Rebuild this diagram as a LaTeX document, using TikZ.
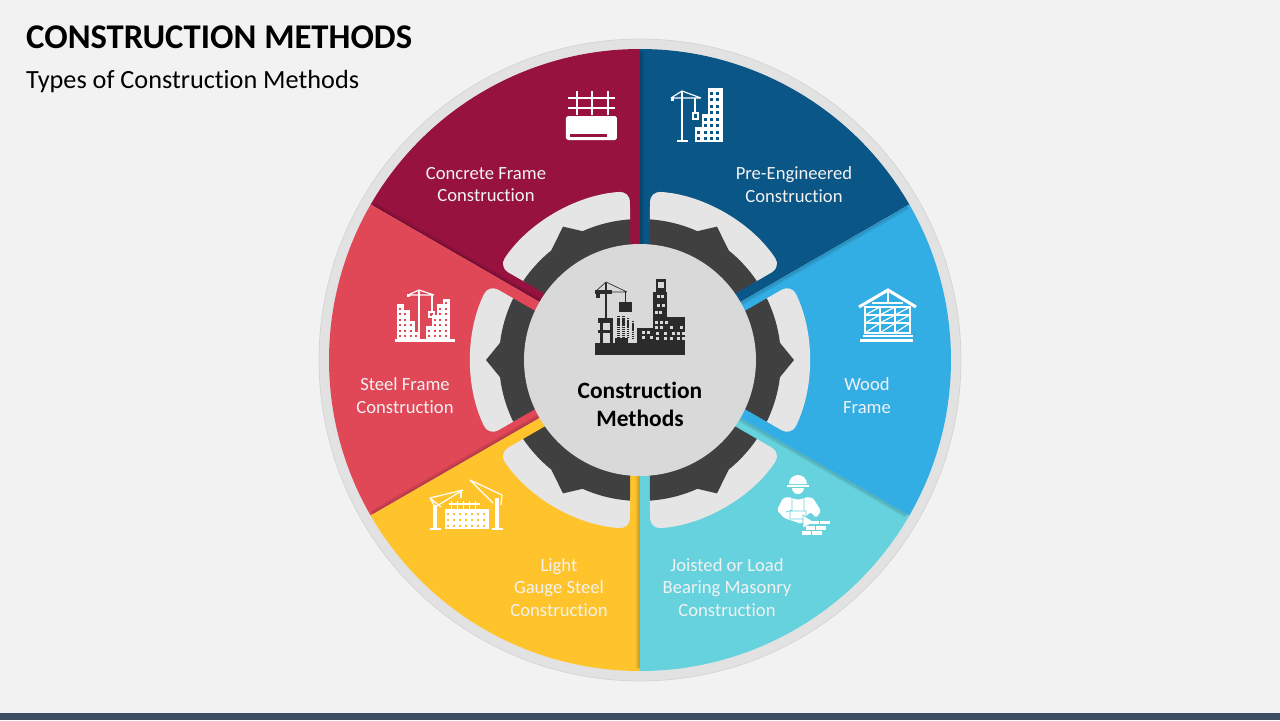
\documentclass[tikz,border=0pt]{standalone}
\usepackage{fontspec}
\setmainfont[Ligatures=NoCommon]{Carlito}
\definecolor{pagegray}{HTML}{F2F2F2}
\definecolor{ringgray}{HTML}{E2E2E2}
\definecolor{crimson}{HTML}{97123F}
\definecolor{deepblue}{HTML}{0A5686}
\definecolor{skyblue}{HTML}{33AEE5}
\definecolor{aqua}{HTML}{65D2DD}
\definecolor{amber}{HTML}{FFC42B}
\definecolor{coral}{HTML}{E04757}
\definecolor{geardark}{HTML}{404040}
\definecolor{padgray}{HTML}{E6E5E6}
\definecolor{hubgray}{HTML}{D9D9D9}
\definecolor{cityink}{HTML}{2B2B2B}
\definecolor{footerbar}{HTML}{3E4E63}
\tikzset{
  pixel/.style={shift={(-640,360)},yscale=-1},
  slicelabel/.style={
    align=center,
    inner sep=0pt,
    text=white!95!black,
    font=\fontsize{15.9}{19.2}\selectfont
    },
  hublabel/.style={
    align=center,
    inner sep=0pt,
    text=black,
    font=\fontsize{20}{24}\selectfont\bfseries
    },
  sliceshadow/.style={black,opacity=0.09,line width=#1},
  iconline/.style={white,line width=2pt},
  thinline/.style={white,line width=1pt},
  cityline/.style={cityink,line width=1pt},
}
% one coloured slice of the disc
\newcommand{\discslice}[3]{
  \fill[#1] (0,0) -- (#2:311) arc[start angle=#2,end angle=#3,radius=311] -- cycle;
}
% light pad lying behind a gear part
\newcommand{\gearpad}[1]{
  \fill[padgray,rounded corners=9pt] (#1-30+4.4:130) -- (#1-30+3.4:169)
    arc[start angle=#1-30+3.4,end angle=#1+30-3.4,radius=169] -- (#1+30-4.4:130) -- cycle;
}
% dark gear part with one tooth: middle angle, tooth spread on each side
\newcommand{\gearpart}[3]{
  \fill[geardark] (#1-30+5.7:100) -- (#1-30+4.07:141)
    arc[start angle=#1-30+4.07,end angle=#1-#2,radius=141] -- (#1:154) -- (#1+#3:141)
    arc[start angle=#1+#3,end angle=#1+30-4.07,radius=141] -- (#1+30-5.7:100) -- cycle;
}
% block of windows: x, bottom, columns, rows, window colour, fill colour
\def\cellsize{6.5}
\newcommand{\towerblock}[6]{
  \fill[#6] (#1,#2) rectangle (#1+#3*\cellsize+1.6,#2-#4*\cellsize-1.6);
  \foreach \c in {1,...,#3}{
    \foreach \r in {1,...,#4}{
      \fill[#5] (#1+1.8+\c*\cellsize-\cellsize,#2-1.8-\r*\cellsize+\cellsize) rectangle
        ++(\cellsize-3.6,3.6-\cellsize);
    }
  }
}
\begin{document}
\begin{tikzpicture}[x=0.03cm,y=0.03cm]
\useasboundingbox (-640,-360) rectangle (640,360);
\fill[pagegray] (-640,-360) rectangle (640,360);
\fill[footerbar] (-640,-360) rectangle (640,-353);

% disc
\fill[ringgray] (0,0) circle (321);
\draw[black!18,line width=0.5pt] (0,0) circle (321);
\discslice{deepblue}{30}{90}
\discslice{crimson}{90}{150}
\discslice{coral}{150}{210}
\discslice{amber}{210}{270}
\discslice{aqua}{270}{330}
\discslice{skyblue}{-30}{30}
\foreach \a in {30,-30,-90,210,150,90}{
  \draw[sliceshadow=3pt,shift={(\a-90:2)}] (0,0) -- (\a:308);
  \draw[sliceshadow=1.2pt,shift={(\a-90:1)}] (0,0) -- (\a:309);
}

% gear
\foreach \a in {0,60,120,180,240,300}{
  \gearpad{\a}
}
\gearpart{0}{7}{7}
\gearpart{60}{9}{6}
\gearpart{120}{6}{9}
\gearpart{180}{7}{7}
\gearpart{240}{9}{6}
\gearpart{300}{6}{9}
\fill[hubgray] (0,0) circle (116);

\begin{scope}[pixel]
% concrete frame icon
\fill[white,rounded corners=1.5pt] (566,116) rectangle (617,140);
\fill[crimson] (570,134) rectangle (607,137);
\foreach \y in {98,108}{
  \draw[iconline] (568,\y) -- (615,\y);
}
\foreach \x in {577,592,608}{
  \draw[iconline] (\x,91) -- (\x,115);
}

% pre-engineered icon
\draw[iconline] (682,91) -- (682,141);
\draw[iconline] (677,141) -- (688,141);
\draw[thinline] (671,98) -- (701,98) (671,98) -- (682,91) -- (701,98);
\fill[white] (671,98) rectangle (674,101);
\draw[thinline] (695,98) -- (695,113) (693,113) rectangle (698,119);
\towerblock{695}{142}{1}{2}{deepblue}{white}
\towerblock{702}{142}{1}{4}{deepblue}{white}
\towerblock{708}{142}{2}{8}{deepblue}{white}

% steel frame icon
\def\cellsize{5.5}
\towerblock{397}{339}{1}{6}{coral}{white}
\towerblock{402.5}{339}{1}{5}{coral}{white}
\towerblock{408}{339}{1}{3}{coral}{white}
\towerblock{413}{339}{1}{1}{coral}{white}
\towerblock{443}{339}{1}{7}{coral}{white}
\towerblock{437.5}{339}{1}{6}{coral}{white}
\towerblock{432}{339}{1}{4}{coral}{white}
\towerblock{426.5}{339}{1}{2}{coral}{white}
\draw[iconline] (395,340.5) -- (455,340.5);
\draw[iconline] (419,290) -- (419,340);
\draw[thinline] (408,295) -- (434,295) (408,295) -- (419,290) -- (434,295);
\fill[white] (407,294) rectangle (410,297);
\draw[thinline] (432,295) -- (432,312) (429,312) rectangle (434,317);

% wood frame icon
\draw[white,line width=2.6pt] (859,307) -- (888,290) -- (916,307);
\draw[thinline] (872,303) -- (903,303) (888,292) -- (888,303);
\foreach \x in {865,880,895}{
  \draw[white,line width=1.4pt] (\x,307) rectangle (\x+15,333);
  \draw[thinline] (\x,315) -- (\x+15,315) (\x,323) -- (\x+15,323);
  \draw[thinline] (\x,315) -- (\x+15,307) (\x,323) -- (\x+15,315) (\x,333) -- (\x+15,323);
}
\draw[thinline] (863,336) -- (913,336);
\fill[white] (860,339) rectangle (913,342);

% light gauge steel icon
\def\cellsize{6}
\towerblock{445}{529}{7}{3}{amber}{white}
\foreach \x in {451,457,463,469,475}{
  \draw[thinline,line width=0.5pt] (\x,501) -- (\x,510);
}
\draw[thinline] (449,504) -- (480,504);
\draw[white,line width=2.8pt] (435,505) -- (435,529);
\draw[iconline] (430,529) -- (441,529);
\draw[thinline] (430,498) -- (463,490) (430,498) -- (435,507) -- (463,490) (430,498) -- (441,507);
\draw[thinline] (461,490) -- (461,498);
\draw[white,line width=2.8pt] (497,498) -- (497,529);
\draw[iconline] (492,529) -- (503,529);
\draw[thinline] (470,480) -- (502,495) (470,480) -- (493,503) (502,495) -- (501,505);

% masonry icon
\fill[white] (789,484) arc[start angle=180,end angle=360,radius=9] -- cycle;
\fill[white] (787,484.5) rectangle (809,486.5);
\fill[white] (792,488) -- (804,488) arc[start angle=0,end angle=180,radius=6] -- cycle;
\fill[white,rounded corners=1.5pt] (789,497) -- (783,498) -- (777,510) -- (784,518) -- (802,524)
  -- (806,516) -- (811,512) -- (816,518) -- (821,511) -- (813,498) -- (807,497) -- (798,500) -- cycle;
\draw[aqua,line width=0.6pt] (792,498) -- (792,510) -- (786,512) (804,498) -- (804,510)
  (790,511) rectangle (806,519);
\fill[white,draw=aqua,line width=0.5pt] (803,515) -- (814,522) -- (803,528) -- cycle;
\foreach \y/\xa/\xb in {522.5/810/830,528/806/826,533/802/822}{
  \draw[white,line width=2.8pt,dash pattern=on 8pt off 0.8pt] (\xa,\y) -- (\xb,\y);
}

% city icon in the hub
\fill[cityink] (595,343) rectangle (685,355);
\fill[cityink] (637,328) rectangle (653,343);
\fill[cityink] (653,317) rectangle (685,343);
\fill[cityink] (653,292) rectangle (667,317);
\fill[cityink] (656,279) rectangle (666,292);
\foreach \x/\y in {658/282,661/282,658/285,661/285,657/295,661/295,657/304,662/304,655/311,659/311,
    655/321,660/321,665/321,655/326,660/326,670/326,680/326,642/331,647/331,642/336,650/336,656/332,
    664/332,672/332,677/332,682/332,656/337,664/337,670/337,677/337,682/337}{
  \fill[hubgray] (\x,\y) rectangle ++(3,3);
}
\draw[cityline,line width=2.4pt] (606,283) -- (606,318);
\draw[cityline,line width=0.6pt] (595,292) -- (627,292) (595,292) -- (606,282) -- (627,292);
\fill[cityink] (595,290) rectangle (612,294);
\fill[cityink] (596,293) rectangle (600,298);
\draw[cityline,line width=0.6pt] (625,292) -- (625,302);
\fill[cityink] (619,302) rectangle (632,312);
\fill[cityink] (598,318) rectangle (613,323);
\fill[cityink] (598,330) rectangle (613,333);
\fill[cityink] (600,323) rectangle (603,343);
\fill[cityink] (610,323) rectangle (613,343);
\fill[cityink] (615,338) rectangle (628,343);
\foreach \x/\y in {618.5/316,623.5/316,628/318,633/321}{
  \draw[cityline,line width=2.2pt,dash pattern=on 1.2pt off 0.6pt] (\x,\y) -- (\x,338);
}

% texts
\node (title) [anchor=base west,inner sep=0pt,font=\fontsize{29.6}{32}\selectfont\bfseries] at (26,49) {CONSTRUCTION METHODS};
\node (subtitle) [anchor=base west,inner sep=0pt,font=\fontsize{22.4}{26}\selectfont] at (26,88) {Types of Construction Methods};
\node (concrete) [slicelabel] at (486,184.5) {Concrete Frame\\Construction};
\node (preeng) [slicelabel] at (794,184.5) {Pre-Engineered\\Construction};
\node (wood) [slicelabel] at (867,395.5) {Wood\\Frame};
\node (steel) [slicelabel] at (405,395.5) {Steel Frame\\Construction};
\node (gauge) [slicelabel] at (559,587.5) {Light\\Gauge Steel\\Construction};
\node (masonry) [slicelabel] at (727,587.5) {Joisted or Load\\Bearing Masonry\\Construction};
\node (hub) [hublabel] at (640,404) {Construction\\Methods};
\end{scope}
\end{tikzpicture}
\end{document}
